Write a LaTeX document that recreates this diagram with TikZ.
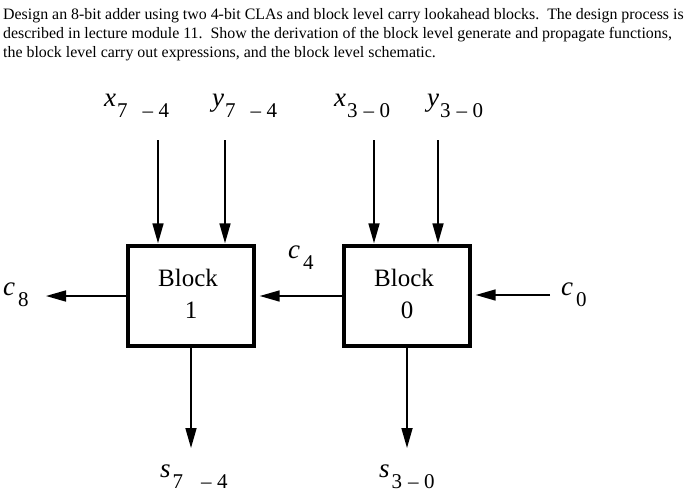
\documentclass[tikz,border=0pt]{standalone}
\usepackage{fontspec}
\setmainfont{Liberation Serif}
\usetikzlibrary{arrows.meta}
\newcommand{\lab}[4]{{\fontsize{27}{27}\selectfont\itshape #1}\hspace{#4}\raisebox{-11pt}{\fontsize{21}{21}\selectfont #2#3}}
\newcommand{\rng}[2]{\hspace{#1}--\hspace{5.5pt}#2}
\tikzset{
  x=1pt,y=-1pt,
  blockbox/.style={draw=black,line width=3.4pt,fill=white,minimum width=126pt,minimum height=100pt,inner sep=0pt},
  wire/.style={draw=black,line width=1.7pt,-{Triangle[length=20pt,width=11pt]},shorten >=1pt},
  sig/.style={inner sep=0pt,anchor=base west},
  para/.style={inner sep=0pt,anchor=base west,font=\fontsize{15.9}{16}\selectfont},
  blocktext/.style={inner sep=0pt,font=\fontsize{25}{25}\selectfont}
}
\begin{document}
\begin{tikzpicture}
\useasboundingbox (0,0) rectangle (700,503);
\node[para] (t1) at (3,20) {Design an 8-bit adder using two 4-bit CLAs and block level carry lookahead blocks.\ \ The design process is};
\node[para] (t2) at (3,38) {described in lecture module 11.\ \ Show the derivation of the block level generate and propagate functions,};
\node[para] (t3) at (3,57) {the block level carry out expressions, and the block level schematic.};

\node[blockbox] (b1) at (191,296) {};
\node[blockbox] (b0) at (407,296) {};
\node[blocktext] (b1a) at (188,278) {Block};
\node[blocktext] (b1b) at (191,310) {1};
\node[blocktext] (b0a) at (404,278) {Block};
\node[blocktext] (b0b) at (407,310) {0};

\node[sig] (x7) at (104,106) {\lab{x}{7}{\rng{15pt}{4}}{1pt}};
\node[sig] (y7) at (212,106) {\lab{y}{7}{\rng{15pt}{4}}{1pt}};
\node[sig] (x3) at (334,106) {\lab{x}{3}{\rng{6pt}{0}}{1pt}};
\node[sig] (y3) at (427,106) {\lab{y}{3}{\rng{6pt}{0}}{1pt}};
\node[sig] (c8) at (3,295) {\lab{c}{8}{}{3pt}};
\node[sig] (c4) at (288,258) {\lab{c}{4}{}{3pt}};
\node[sig] (c0) at (561,295) {\lab{c}{0}{}{3pt}};
\node[sig] (s7) at (160,477) {\lab{s}{7}{\rng{18pt}{4}}{2pt}};
\node[sig] (s3) at (379,477) {\lab{s}{3}{\rng{6pt}{0}}{2pt}};

\coordinate (ix7) at (158,140);
\coordinate (iy7) at (225,140);
\coordinate (ix3) at (374,140);
\coordinate (iy3) at (438,140);
\coordinate (ic0) at (550,295);
\coordinate (oc8) at (45,296);
\coordinate (os7) at (191,449);
\coordinate (os3) at (407,449);

\draw[wire] (ix7) -- (ix7 |- b1.north);
\draw[wire] (iy7) -- (iy7 |- b1.north);
\draw[wire] (ix3) -- (ix3 |- b0.north);
\draw[wire] (iy3) -- (iy3 |- b0.north);
\draw[wire] (b1.west |- oc8) -- (oc8);
\draw[wire,shorten >=4pt] (b0.west |- 0,296) -- (b1.east |- 0,296);
\draw[wire,shorten >=4pt] (ic0) -- (b0.east |- ic0);
\draw[wire] (b1.south) -- (os7);
\draw[wire] (b0.south) -- (os3);
\end{tikzpicture}
\end{document}
